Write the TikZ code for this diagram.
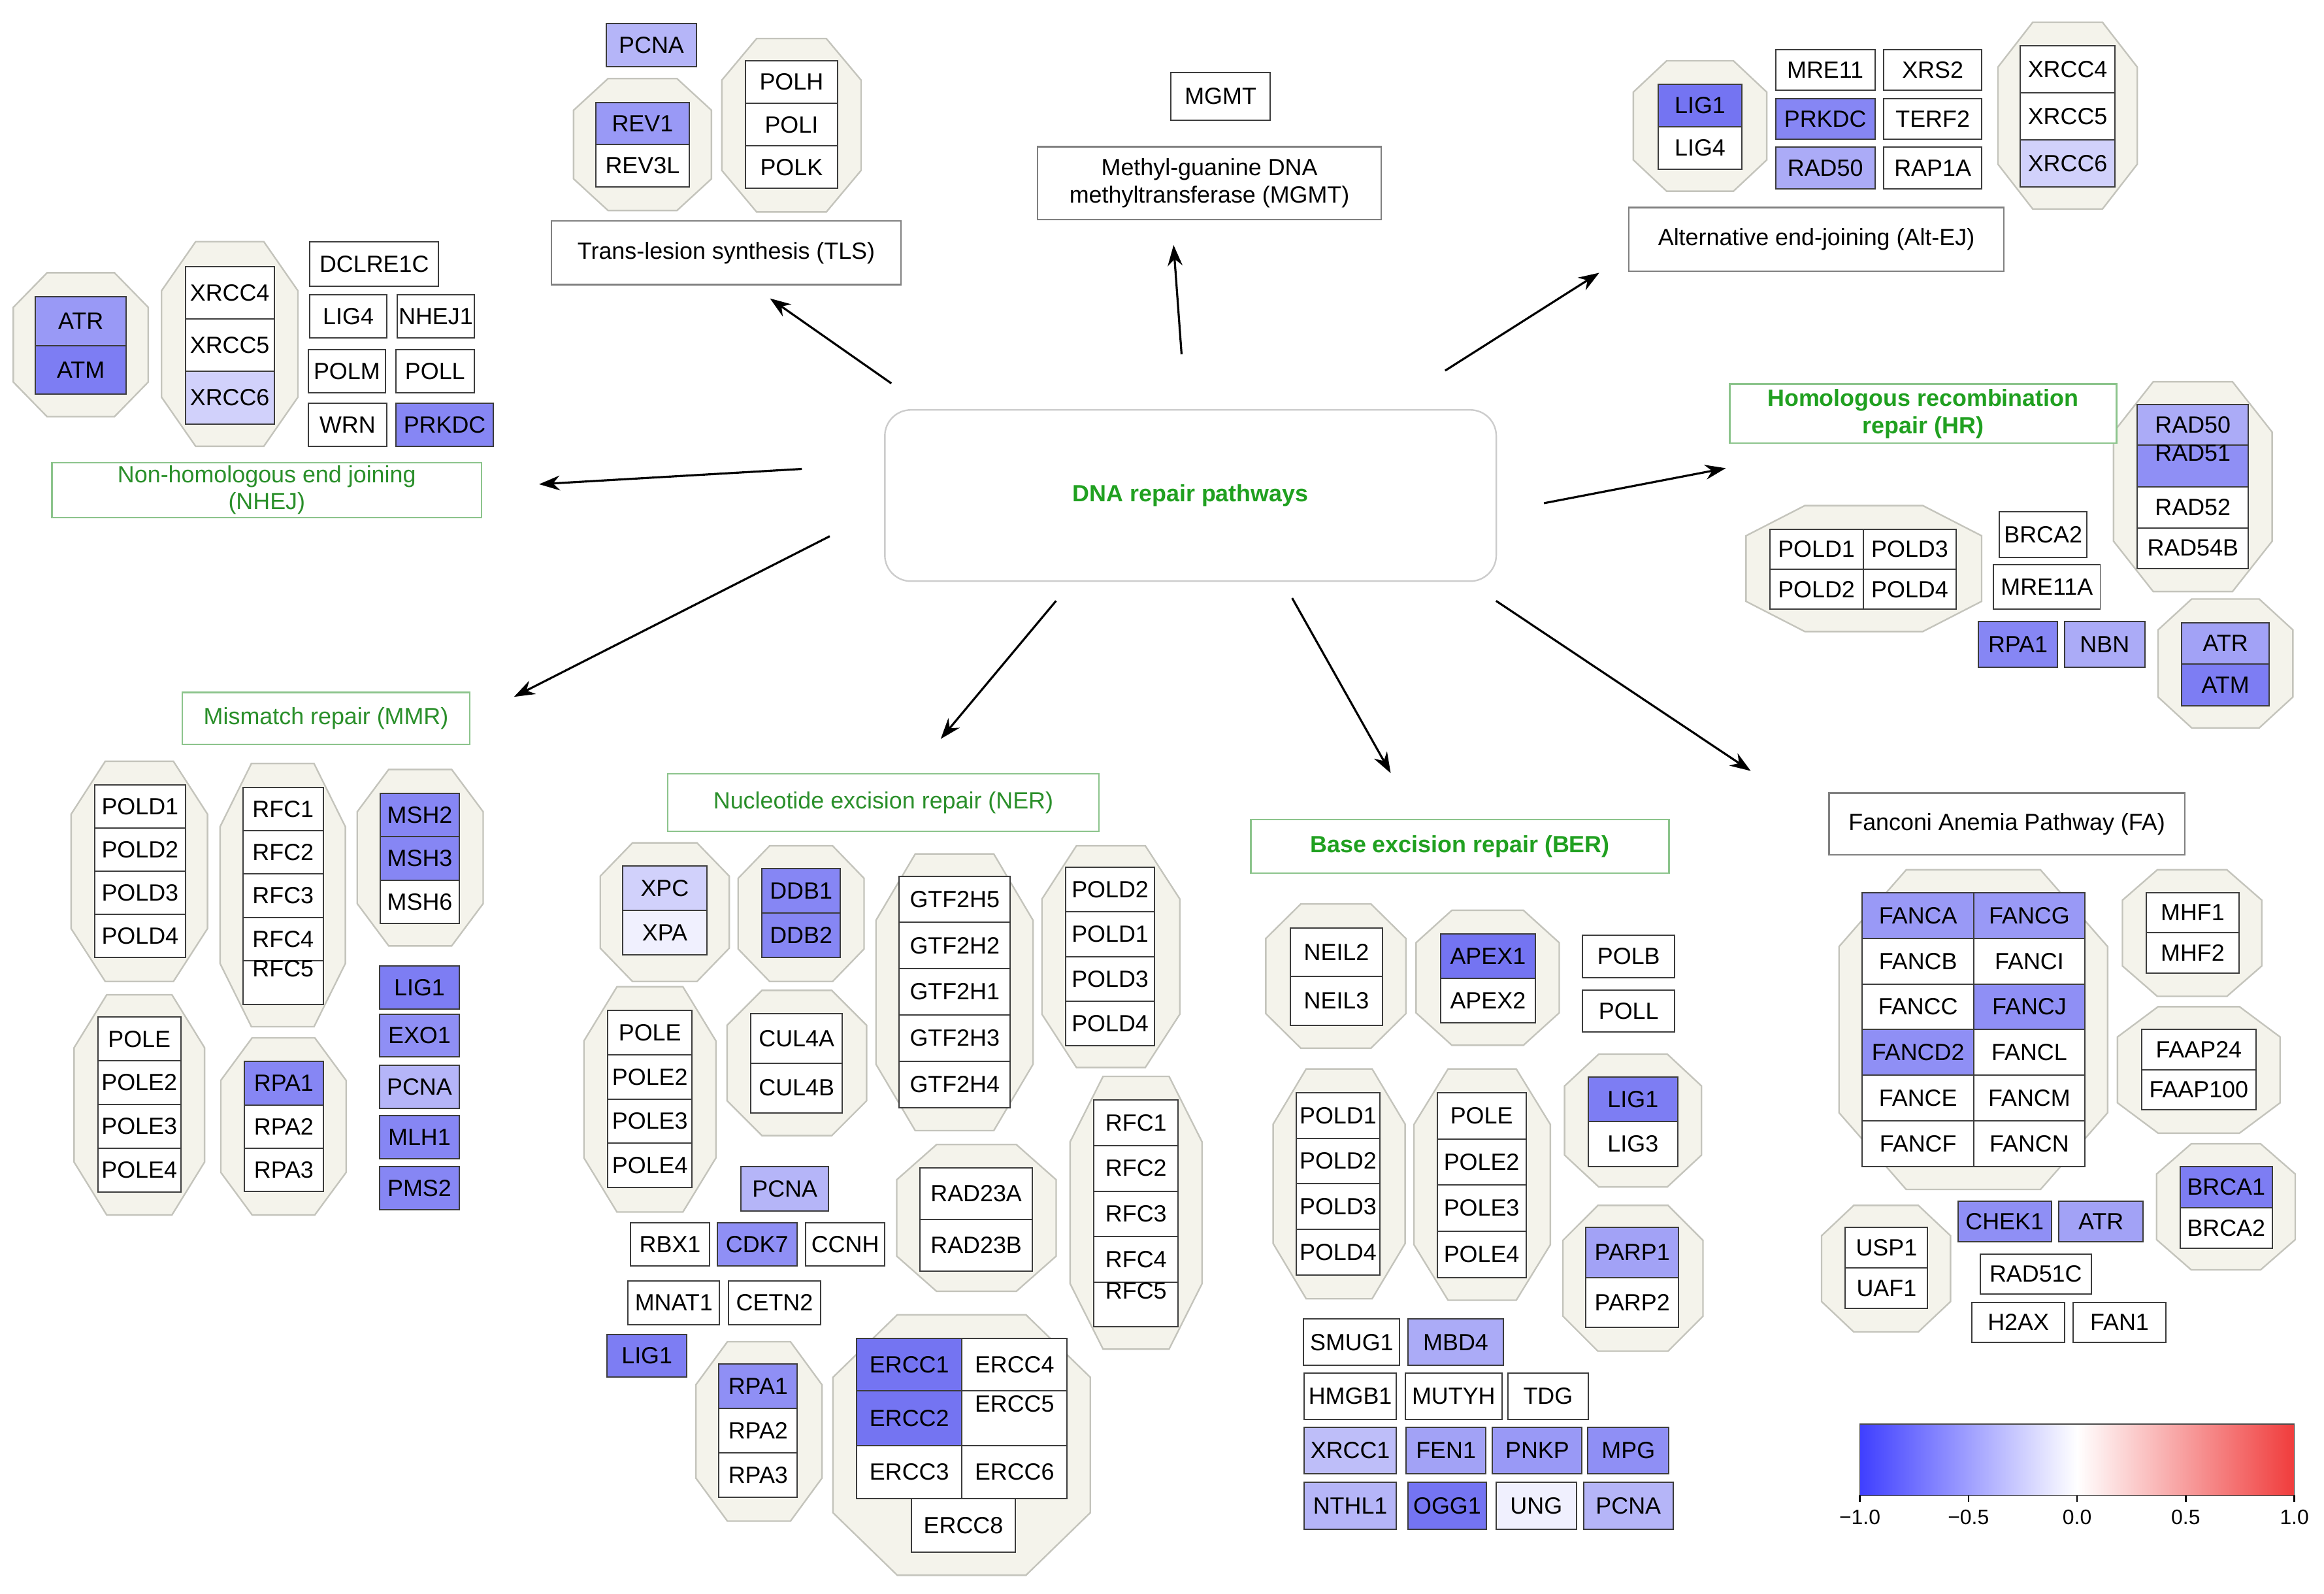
\documentclass[tikz,border=0pt]{standalone}
\usepackage{fontspec}
\setmainfont{Liberation Sans}
\usetikzlibrary{arrows.meta}
\definecolor{lo}{HTML}{4545EE}
\definecolor{gbord}{HTML}{3C3C3C}
\definecolor{cfill}{HTML}{F4F3EB}
\definecolor{cline}{HTML}{C4C4BC}
\definecolor{pwgreen}{HTML}{2A8F2A}
\definecolor{pwbright}{HTML}{20A020}
\definecolor{gline}{HTML}{8CC48C}
\definecolor{cbblue}{HTML}{3F3FFF}
\definecolor{cbred}{HTML}{F03C3C}

\newcommand{\bx}[7][gn=0]{\node[#1, minimum width={((#5)-(#3))*0.02cm}, minimum height={((#6)-(#4))*0.02cm}] (#2) at ({((#3)+(#5))/2},{((#4)+(#6))/2}) {#7};}
\newcommand{\stk}[6]{\foreach \gname/\gpct [count=\i from 0] in {#6} {\bx[gn=\gpct]{#1\i}{#2}{(#4)+\i*(#5)}{#3}{(#4)+(\i+1)*(#5)}{\gname}}}
\newcommand{\oct}[4]{\pgfmathsetmacro\ocx{0.25*((#3)-(#1))}\pgfmathsetmacro\ocy{0.24*((#4)-(#2))}%
  \draw[cplx] ({#1+\ocx},#2) -- ({#3-\ocx},#2) -- (#3,{#2+\ocy}) -- (#3,{#4-\ocy}) -- ({#3-\ocx},#4) -- ({#1+\ocx},#4) -- (#1,{#4-\ocy}) -- (#1,{#2+\ocy}) -- cycle;}

\begin{document}
\begin{tikzpicture}[x=0.02cm, y=-0.02cm,
    gene/.style={draw=gbord, line width=0.5pt, inner sep=0pt, font=\fontsize{9}{10}\selectfont},
    gn/.style={gene, fill=lo!#1},
    cplx/.style={draw=cline, fill=cfill, line width=0.6pt},
    pwbox/.style={draw=gray, fill=white, line width=0.6pt, inner sep=0pt, align=center, font=\fontsize{9}{10.5}\selectfont},
    pwgreen/.style={pwbox, draw=gline, text=pwgreen},
    pwbold/.style={pwgreen, text=pwbright, font=\fontsize{9}{10.5}\selectfont\bfseries},
    hub/.style={draw=gray!40, line width=0.6pt, rounded corners=0.35cm, inner sep=0pt, text=pwbright, font=\fontsize{9}{10.5}\selectfont\bfseries},
    arr/.style={-{Stealth[length=2.8mm, width=2mm]}, line width=0.8pt},
    cbar/.style={draw=gray!60!black, line width=0.4pt, inner sep=0pt, left color=cbblue, right color=cbred, middle color=white},
    ticklab/.style={inner sep=0pt, font=\fontsize{8}{9}\selectfont}]
    \useasboundingbox (0,0) rectangle (1568,1075);

    \bx[hub]{hub}{597}{276.5}{1009.5}{392}{DNA repair pathways}

    \oct{387}{53}{480}{142}
    \stk{tlsrev}{402}{465}{69}{28.5}{REV1/55,REV3L/0}
    \oct{487}{26}{581}{143}
    \stk{tlspol}{503}{565}{41}{28.7}{POLH/0,POLI/0,POLK/0}
    \bx[gn=40]{tlspcna}{409}{16}{470}{45}{PCNA}
    \bx[pwbox]{tls}{372}{149}{608}{192}{Trans-lesion synthesis (TLS)}

    \bx{mgmtgene}{790}{49}{857}{81}{MGMT}
    \bx[pwbox]{mgmt}{700}{99}{932}{148}{Methyl-guanine DNA\\methyltransferase (MGMT)}

    \oct{1102}{41}{1192}{129}
    \stk{altlig}{1119}{1175}{57}{28.5}{LIG1/75,LIG4/0}
    \bx{altmre}{1198}{33.5}{1265}{61}{MRE11}
    \bx{altxrs}{1271}{33.5}{1337}{61}{XRS2}
    \bx[gn=65]{altprkdc}{1198}{66.5}{1265}{94}{PRKDC}
    \bx{altterf}{1271}{66.5}{1337}{94}{TERF2}
    \bx[gn=45]{altrad}{1198}{99}{1265}{127.5}{RAD50}
    \bx{altrap}{1271}{99}{1337}{127.5}{RAP1A}
    \oct{1348}{15}{1442}{141}
    \stk{altxrcc}{1363}{1427}{31}{31.7}{XRCC4/0,XRCC5/0,XRCC6/25}
    \bx[pwbox]{altej}{1099}{140}{1352}{183}{Alternative end-joining (Alt-EJ)}

    \oct{9}{184}{100}{281}
    \stk{nhejat}{24}{85}{200}{33}{ATR/55,ATM/70}
    \oct{109}{163}{201}{301}
    \stk{nhejxrcc}{125}{185}{180}{35.3}{XRCC4/0,XRCC5/0,XRCC6/25}
    \bx{nhejdcl}{209}{163}{296}{193}{DCLRE1C}
    \bx{nhejlig}{209}{199}{261}{228}{LIG4}
    \bx{nhejnhej}{268}{199}{320}{228}{NHEJ1}
    \bx{nhejpolm}{208}{236}{260}{265}{POLM}
    \bx{nhejpoll}{267}{236}{320}{265}{POLL}
    \bx{nhejwrn}{208}{272}{261}{301}{WRN}
    \bx[gn=65]{nhejprkdc}{267}{272}{333}{301}{PRKDC}
    \bx[pwgreen]{nhej}{35}{312}{325}{349}{Non-homologous end joining\\(NHEJ)}

    \oct{1426}{257.5}{1533}{399}
    \bx[gn=45]{hrrad0}{1442}{273}{1517}{300}{RAD50}
    \bx[gn=60, text height=0.22cm, text depth=0.35cm]{hrrad1}{1442}{300}{1517}{328.5}{RAD51}
    \bx{hrrad2}{1442}{328.5}{1517}{356}{RAD52}
    \bx{hrrad3}{1442}{356}{1517}{383.5}{RAD54B}
    \bx[pwbold]{hr}{1167}{259}{1428}{299}{Homologous recombination\\repair (HR)}
    \oct{1178}{341}{1337}{426}
    \stk{hrpolda}{1194}{1257}{357}{27}{POLD1/0,POLD2/0}
    \stk{hrpoldb}{1257}{1320}{357}{27}{POLD3/0,POLD4/0}
    \bx{hrbrca}{1349}{345}{1408}{376}{BRCA2}
    \bx{hrmre}{1345}{381}{1417}{411}{MRE11A}
    \bx[gn=65]{hrrpa}{1335}{419}{1388}{450}{RPA1}
    \bx[gn=45]{hrnbn}{1393}{419}{1447}{450}{NBN}
    \oct{1456}{404}{1547}{491}
    \stk{hrat}{1472}{1531}{420}{28}{ATR/50,ATM/70}

    \bx[pwgreen]{mmr}{123}{467}{317}{502}{Mismatch repair (MMR)}
    \oct{48}{513.5}{140}{662}
    \stk{mmrpold}{64}{125}{529.5}{29.1}{POLD1/0,POLD2/0,POLD3/0,POLD4/0}
    \oct{148.5}{515}{233}{692.5}
    \stk{mmrrfc}{164}{218}{531}{29.25}{RFC1/0,RFC2/0,RFC3/0,RFC4/0}
    \bx[gn=0, text height=0.22cm, text depth=0.37cm]{mmrrfc4}{164}{648}{218}{677.5}{RFC5}
    \oct{241}{519}{326}{638}
    \stk{mmrmsh}{256.5}{310}{535}{29.3}{MSH2/65,MSH3/65,MSH6/0}
    \bx[gn=70]{mmrlig}{256}{651.5}{310}{680.6}{LIG1}
    \bx[gn=60]{mmrexo}{256}{684}{310}{713}{EXO1}
    \bx[gn=40]{mmrpcna}{256}{718.5}{310}{747.6}{PCNA}
    \bx[gn=65]{mmrmlh}{256}{752.5}{310}{781.6}{MLH1}
    \bx[gn=65]{mmrpms}{256}{787}{310}{816}{PMS2}
    \oct{50}{671}{138}{819.5}
    \stk{mmrpole}{66}{122}{686}{29.5}{POLE/0,POLE2/0,POLE3/0,POLE4/0}
    \oct{149}{700}{233.5}{819.5}
    \stk{mmrrpa}{165}{218}{716}{29.2}{RPA1/65,RPA2/0,RPA3/0}

    \bx[pwgreen]{ner}{450.5}{522}{741.5}{560.6}{Nucleotide excision repair (NER)}
    \oct{405}{568.5}{492}{662}
    \stk{nerxp}{420}{477}{584}{30}{XPC/25,XPA/8}
    \oct{498}{570.5}{583}{662}
    \stk{nerddb}{514}{567}{586}{30}{DDB1/65,DDB2/65}
    \oct{591}{576}{697}{762.6}
    \stk{nergtf}{606.6}{681.7}{591}{31.2}{GTF2H5/0,GTF2H2/0,GTF2H1/0,GTF2H3/0,GTF2H4/0}
    \oct{703}{570.5}{796}{720}
    \stk{nerpold}{719}{779}{585}{30.1}{POLD2/0,POLD1/0,POLD3/0,POLD4/0}
    \oct{394}{665.6}{483}{817.5}
    \stk{nerpole}{410}{467}{681.5}{29.9}{POLE/0,POLE2/0,POLE3/0,POLE4/0}
    \oct{490.6}{668}{584.7}{766}
    \stk{nercul}{506.5}{568.4}{683.7}{33.4}{CUL4A/0,CUL4B/0}
    \bx[gn=40]{nerpcna}{500}{786.7}{559}{817}{PCNA}
    \bx{nerrbx}{425.5}{824.8}{478.7}{854}{RBX1}
    \bx[gn=60]{nercdk}{484}{824.8}{537.6}{854}{CDK7}
    \bx{nerccnh}{543.5}{824.8}{597}{854}{CCNH}
    \bx{nermnat}{423.8}{864}{485.4}{893.6}{MNAT1}
    \bx{nercetn}{491.4}{864}{553.8}{893.6}{CETN2}
    \bx[gn=70]{nerlig}{409.6}{900}{463.4}{929}{LIG1}
    \oct{469.5}{905}{554.6}{1026}
    \stk{nerrpa}{485}{538}{920}{30}{RPA1/60,RPA2/0,RPA3/0}
    \oct{605}{772}{712.6}{871}
    \stk{nerrad}{620.7}{696.6}{787.8}{34.8}{RAD23A/0,RAD23B/0}
    \oct{722}{726}{811}{910}
    \stk{nerrfc}{738}{795}{741.8}{30.8}{RFC1/0,RFC2/0,RFC3/0,RFC4/0}
    \bx[gn=0, text height=0.22cm, text depth=0.374cm]{nerrfc4}{738}{865}{795}{894.7}{RFC5}
    \oct{562}{886.8}{735.6}{1062.5}
    \bx[gn=75]{nerercc1}{578}{902.7}{649}{938}{ERCC1}
    \bx{nerercc4}{649}{902.7}{720}{938}{ERCC4}
    \bx[gn=75]{nerercc2}{578}{938}{649}{975}{ERCC2}
    \bx[gn=0, text height=0.29cm, text depth=0.45cm]{nerercc5}{649}{938}{720}{975}{ERCC5}
    \bx{nerercc3}{578}{975}{649}{1010.6}{ERCC3}
    \bx{nerercc6}{649}{975}{720}{1010.6}{ERCC6}
    \bx{nerercc8}{615}{1010.6}{685}{1047}{ERCC8}

    \bx[pwbold]{ber}{844}{552.7}{1126}{589}{Base excision repair (BER)}
    \oct{854}{609.7}{948.6}{707}
    \stk{berneil}{870.6}{932.8}{625.8}{32.9}{NEIL2/0,NEIL3/0}
    \oct{955.4}{614}{1052}{705}
    \stk{berapex}{971.8}{1036}{630}{30}{APEX1/75,APEX2/0}
    \bx{berpolb}{1067.7}{630.7}{1130}{659.5}{POLB}
    \bx{berpoll}{1067.7}{668}{1130}{696}{POLL}
    \oct{859}{721}{948}{876}
    \stk{berpold}{874.5}{931}{737}{30.75}{POLD1/0,POLD2/0,POLD3/0,POLD4/0}
    \oct{954}{721}{1046}{877}
    \stk{berpole}{969.6}{1029.6}{737}{31.15}{POLE/0,POLE2/0,POLE3/0,POLE4/0}
    \oct{1055.6}{711}{1148}{800.6}
    \stk{berlig}{1071.5}{1132}{726.5}{30.1}{LIG1/70,LIG3/0}
    \oct{1054.5}{813}{1149}{911.4}
    \stk{berparp}{1070}{1132.5}{828}{33.75}{PARP1/50,PARP2/0}
    \bx{bersmug}{879.6}{889.6}{944.4}{921}{SMUG1}
    \bx[gn=45]{bermbd}{949.8}{889.6}{1014.5}{921}{MBD4}
    \bx{berhmgb}{880}{926}{942}{957.5}{HMGB1}
    \bx{bermutyh}{948}{926}{1013.5}{957.5}{MUTYH}
    \bx{bertdg}{1017.4}{926}{1071.5}{957.5}{TDG}
    \bx[gn=35]{berxrcc}{880}{962.6}{942}{994}{XRCC1}
    \bx[gn=50]{berfen}{948.6}{962.6}{1002.6}{994}{FEN1}
    \bx[gn=55]{berpnkp}{1007}{962.6}{1067.4}{994}{PNKP}
    \bx[gn=60]{bermpg}{1071.3}{962.6}{1126}{994}{MPG}
    \bx[gn=40]{bernthl}{880}{999.8}{942}{1031.3}{NTHL1}
    \bx[gn=75]{berogg}{949.8}{999.8}{1003}{1031.3}{OGG1}
    \bx[gn=8]{berung}{1009.4}{999.8}{1063.6}{1031.3}{UNG}
    \bx[gn=40]{berpcna}{1068.5}{999.8}{1128.8}{1031.3}{PCNA}

    \bx[pwbox]{fa}{1234}{535}{1474}{576.5}{Fanconi Anemia Pathway (FA)}
    \oct{1240.8}{586.7}{1422}{802.3}
    \stk{fanl}{1256.5}{1331.7}{602.2}{30.75}{FANCA/55,FANCB/0,FANCC/0,FANCD2/60,FANCE/0,FANCF/0}
    \stk{fanr}{1331.7}{1406.6}{602.2}{30.75}{FANCG/55,FANCI/0,FANCJ/60,FANCL/0,FANCM/0,FANCN/0}
    \oct{1432}{586.7}{1526}{672}
    \stk{famhf}{1448}{1510.7}{602}{27.2}{MHF1/0,MHF2/0}
    \oct{1428.6}{679}{1538.4}{764.3}
    \stk{faaap}{1445}{1522}{694.3}{27.2}{FAAP24/0,FAAP100/0}
    \oct{1455}{771.5}{1548.6}{856.5}
    \stk{fabrca}{1471}{1533}{787}{27.5}{BRCA1/70,BRCA2/0}
    \oct{1229}{813}{1316}{898.4}
    \stk{fausp}{1245}{1300.6}{827.7}{27.5}{USP1/0,UAF1/0}
    \bx[gn=60]{fachek}{1321}{810}{1384}{837.5}{CHEK1}
    \bx[gn=50]{faatr}{1389}{810}{1446}{837.5}{ATR}
    \bx{farad}{1336}{845.8}{1411}{873}{RAD51C}
    \bx{fah2ax}{1330.5}{878.4}{1393}{905.5}{H2AX}
    \bx{fafan}{1398.6}{878.4}{1461.4}{905.5}{FAN1}

    \bx[cbar]{cbar}{1254.8}{960.6}{1548}{1008.8}{}
    \foreach \v [count=\k from 0] in {−1.0,−0.5,0.0,0.5,1.0} {
        \draw[line width=0.6pt] ({1254.8+\k*73.3},1008.8) -- ++(0,4);
        \node[ticklab] (tick\k) at ({1254.8+\k*73.3},1023.4) {\v};
    }

    \coordinate (tTLS) at (601.4,258.6);   \coordinate (hTLS) at (519.5,201.3);
    \coordinate (tMGMT) at (797.2,239);    \coordinate (hMGMT) at (791.8,165.3);
    \coordinate (tALT) at (975,250);       \coordinate (hALT) at (1079,184);
    \coordinate (tHR) at (1041.7,339.4);   \coordinate (hHR) at (1164.4,315.8);
    \coordinate (tFA) at (1009.4,405.3);   \coordinate (hFA) at (1181.2,520);
    \coordinate (tBER) at (871.8,403.4);   \coordinate (hBER) at (938.3,521.5);
    \coordinate (tNER) at (712.5,405.3);   \coordinate (hNER) at (634.7,498.4);
    \coordinate (tMMR) at (559.8,361.7);   \coordinate (hMMR) at (346.8,470);
    \coordinate (tNHEJ) at (541,316.3);    \coordinate (hNHEJ) at (363.7,326.6);
    \draw[arr] (tTLS) -- (hTLS);
    \draw[arr] (tMGMT) -- (hMGMT);
    \draw[arr] (tALT) -- (hALT);
    \draw[arr] (tHR) -- (hHR);
    \draw[arr] (tFA) -- (hFA);
    \draw[arr] (tBER) -- (hBER);
    \draw[arr] (tNER) -- (hNER);
    \draw[arr] (tMMR) -- (hMMR);
    \draw[arr] (tNHEJ) -- (hNHEJ);
\end{tikzpicture}
\end{document}
